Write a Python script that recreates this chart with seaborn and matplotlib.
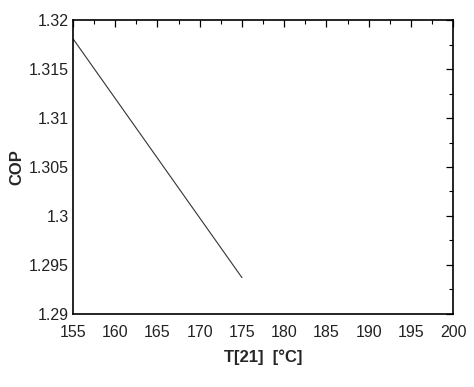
import numpy as np
import pandas as pd
import matplotlib
matplotlib.use("Agg")
import matplotlib.pyplot as plt
import seaborn as sns
from matplotlib.ticker import MultipleLocator

# values
temp_c = [155, 160, 165, 170, 175]
cop = [1.3181, 1.3120, 1.3059, 1.2998, 1.2937]

sns.set_theme(style="white")
plt.rcParams['font.family'] = ['Liberation Sans', 'DejaVu Sans']

df = pd.DataFrame({'T': temp_c, 'COP': cop})

fig = plt.figure(figsize=(4.74, 3.87), dpi=100)
ax = fig.add_axes([0.154, 0.189, 0.802, 0.759])
sns.lineplot(data=df, x='T', y='COP', ax=ax, color='#333333', linewidth=0.8)

ax.set_xlim(155, 200)
ax.set_ylim(1.29, 1.32)
ax.xaxis.set_major_locator(MultipleLocator(5))
ax.xaxis.set_minor_locator(MultipleLocator(2.5))
ax.yaxis.set_minor_locator(MultipleLocator(0.0025))
ax.set_yticks([1.29, 1.295, 1.30, 1.305, 1.31, 1.315, 1.32])
ax.set_yticklabels(['1.29', '1.295', '1.3', '1.305', '1.31', '1.315', '1.32'])

ax.tick_params(which='both', direction='in', top=True, right=True,
               labeltop=False, labelright=False, colors='black', labelcolor='#222222')
ax.tick_params(which='major', length=5, width=0.9, labelsize=11.5, pad=3)
ax.tick_params(axis='x', which='major', pad=8)
ax.tick_params(which='minor', length=3, width=0.8)
for s in ax.spines.values():
    s.set_color('black')
    s.set_linewidth(1.2)

ax.set_xlabel('T[21]  [°C]', fontsize=12, fontweight='bold', labelpad=7)
ax.set_ylabel('COP', fontsize=12, fontweight='bold', labelpad=3)

fig.savefig('out.png', dpi=100)
